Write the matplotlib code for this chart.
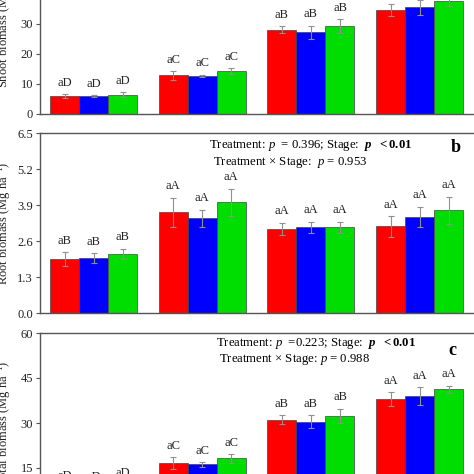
import numpy as np
import matplotlib
matplotlib.use('Agg')
import matplotlib.pyplot as plt

plt.rcParams['font.family'] = ['Liberation Serif', 'DejaVu Serif']
plt.rcParams['mathtext.fontset'] = 'custom'
plt.rcParams['mathtext.rm'] = 'Liberation Serif'
plt.rcParams['mathtext.it'] = 'Liberation Serif:italic'
plt.rcParams['mathtext.bf'] = 'Liberation Serif:bold'
plt.rcParams['mathtext.bfit'] = 'Liberation Serif:italic:bold'

# Data (4 growth stages x 3 treatments)
stages = ['S1', 'S2', 'S3', 'S4']
treatments = ['T1', 'T2', 'T3']
colors = ['#ff0000', '#0000ff', '#00dd00']

shoot_mean = [[6.0, 12.9, 28.1, 34.7],
              [5.9, 12.8, 27.3, 35.6],
              [6.5, 14.2, 29.3, 37.6]]
shoot_err = [[0.6, 1.4, 1.2, 2.0],
             [0.3, 0.3, 2.2, 2.5],
             [0.7, 1.0, 2.3, 1.5]]
shoot_letters = ['aD', 'aC', 'aB', 'aA']

root_mean = [[1.94, 3.64, 3.03, 3.13],
             [1.99, 3.42, 3.09, 3.47],
             [2.13, 4.00, 3.09, 3.71]]
root_err = [[0.25, 0.52, 0.22, 0.37],
            [0.17, 0.31, 0.20, 0.37],
            [0.18, 0.49, 0.20, 0.49]]
root_letters = ['aB', 'aA', 'aA', 'aA']

total_mean = [[7.9, 16.6, 31.1, 37.9],
              [7.9, 16.2, 30.4, 39.0],
              [8.6, 18.2, 32.4, 41.3]]
total_err = [[0.7, 2.0, 1.5, 2.3],
             [0.4, 0.7, 2.2, 2.9],
             [0.8, 1.4, 2.4, 1.2]]
total_letters = ['aD', 'aC', 'aB', 'aA']

fig = plt.figure(figsize=(4.74, 4.74), dpi=100)

# axes positions: the reference is a crop, so panels a and c run off the canvas
W, H = 474.0, 474.0
left, width = 40 / W, 440 / W
ph = 180 / H
ax_a = fig.add_axes([left, (H - 114) / H, width, ph])
ax_b = fig.add_axes([left, (H - 313) / H, width, ph])
ax_c = fig.add_axes([left, (H - 513) / H, width, ph])

x = np.arange(len(stages))
bw = 0.267


def draw_panel(ax, means, errs, letters, ymax, yticks, fmt, ylabel):
    for i in range(len(treatments)):
        xs = x + (i - 1) * bw
        ax.bar(xs, means[i], bw, color=colors[i], edgecolor='#444444',
               linewidth=0.5, zorder=2)
        ax.errorbar(xs, means[i], yerr=errs[i], fmt='none', ecolor='#909090',
                    elinewidth=0.8, capsize=2, capthick=0.8, zorder=3)
        for j in range(len(stages)):
            ax.annotate(letters[j], (xs[j], means[i][j] + errs[i][j]),
                        xytext=(0, 4), textcoords='offset points',
                        ha='center', va='bottom', fontsize=9, color='#222222',
                        annotation_clip=False)
    x0 = -1.5 * bw - 0.092
    ax.set_xlim(x0, x0 + 440 / 108.7)
    ax.set_ylim(0, ymax)
    ax.set_yticks(yticks)
    ax.set_yticklabels([fmt.format(v) for v in yticks])
    ax.set_xticks([])
    for s in ax.spines.values():
        s.set_color('#555555')
        s.set_linewidth(1.0)
    ax.tick_params(axis='y', direction='out', length=3, width=0.8,
                   color='#555555', labelsize=9, pad=2, labelcolor='#222222')
    ax.set_ylabel(ylabel, fontsize=9, color='#222222')
    ax.yaxis.set_label_coords(-0.061, 0.5)


draw_panel(ax_a, shoot_mean, shoot_err, shoot_letters, 60,
           [0, 10, 20, 30, 40, 50, 60], '{:.0f}', 'Shoot biomass (Mg ha$^{-1}$)')
draw_panel(ax_b, root_mean, root_err, root_letters, 6.5,
           [0, 1.3, 2.6, 3.9, 5.2, 6.5], '{:.1f}', 'Root biomass (Mg ha$^{-1}$)')
draw_panel(ax_c, total_mean, total_err, total_letters, 60,
           [0, 15, 30, 45, 60], '{:.0f}', 'Total biomass (Mg ha$^{-1}$)')

# statistics text
ax_b.text(0.384, 0.929, r'Treatment: $p$  = 0.396; Stage:  $\mathbfit{p}$  $\mathbf{<0.01}$',
          transform=ax_b.transAxes, ha='left', va='center', fontsize=9.2)
ax_b.text(0.393, 0.837, r'Treatment $\times$ Stage:  $p$ = 0.953',
          transform=ax_b.transAxes, ha='left', va='center', fontsize=9.2)
ax_b.text(0.945, 0.92, 'b', transform=ax_b.transAxes, ha='center',
          va='center', fontsize=13, fontweight='bold')

ax_c.text(0.40, 0.939, r'Treatment: $p$  =0.223; Stage:  $\mathbfit{p}$  $\mathbf{<0.01}$',
          transform=ax_c.transAxes, ha='left', va='center', fontsize=9.2)
ax_c.text(0.407, 0.854, r'Treatment $\times$ Stage: $p$ = 0.988',
          transform=ax_c.transAxes, ha='left', va='center', fontsize=9.2)
ax_c.text(0.937, 0.905, 'c', transform=ax_c.transAxes, ha='center',
          va='center', fontsize=13, fontweight='bold')

plt.savefig('out.png', dpi=100)
